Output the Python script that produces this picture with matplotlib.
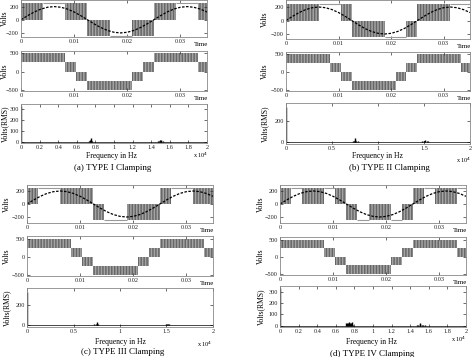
import numpy as np
import matplotlib.pyplot as plt

plt.rcParams['font.family'] = ['Liberation Serif', 'DejaVu Serif']
plt.rcParams['hatch.linewidth'] = 0.55
plt.rcParams['hatch.color'] = '#4a4a4a'

W, H = 474, 357

# Reference sine (dashed), sampled every 1.25 ms
ref_t = [i * 0.00125 for i in range(29)]
ref_v = [0, 62, 118, 162, 190, 200, 190, 162, 118, 62, 0, -62, -118, -162, -190,
         -200, -190, -162, -118, -62, 0, 62, 118, 162, 190, 200, 190, 162, 118]

# Phase voltage: switching intervals (start, end, low, high) and clamped intervals (start, end, level)
t1_switch = [(0, 0.00417, 0, 250), (0.00833, 0.0125, 0, 250), (0.0125, 0.01667, -250, 0),
             (0.02083, 0.025, -250, 0), (0.025, 0.02917, 0, 250), (0.03333, 0.035, 0, 250)]
t1_clamp = [(0.00417, 0.00833, 250), (0.01667, 0.02083, -250), (0.02917, 0.03333, 250)]

t2_switch = [(0, 0.00625, 0, 250), (0.01042, 0.0125, 0, 250), (0.0125, 0.01875, -250, 0),
             (0.02292, 0.025, -250, 0), (0.025, 0.03125, 0, 250)]
t2_clamp = [(0.00625, 0.01042, 250), (0.01875, 0.02292, -250), (0.03125, 0.035, 250)]

t3_switch = [(0, 0.00208, 0, 250), (0.00625, 0.0125, 0, 250), (0.0125, 0.01458, -250, 0),
             (0.01875, 0.025, -250, 0), (0.025, 0.02708, 0, 250), (0.03125, 0.035, 0, 250)]
t3_clamp = [(0.00208, 0.00625, 250), (0.01458, 0.01875, -250), (0.02708, 0.03125, 250)]

t4_switch = [(0, 0.00208, 0, 250), (0.00417, 0.00833, 0, 250), (0.01042, 0.0125, 0, 250),
             (0.0125, 0.01458, -250, 0), (0.01667, 0.02083, -250, 0), (0.02292, 0.025, -250, 0),
             (0.025, 0.02708, 0, 250), (0.02917, 0.03333, 0, 250)]
t4_clamp = [(0.00208, 0.00417, 250), (0.00833, 0.01042, 250), (0.01458, 0.01667, -250),
            (0.02083, 0.02292, -250), (0.02708, 0.02917, 250), (0.03333, 0.035, 250)]

# Line voltage steps
line_start = [0, 0.00833, 0.01042, 0.0125, 0.02083, 0.02292, 0.025, 0.03333]
line_end = [0.00833, 0.01042, 0.0125, 0.02083, 0.02292, 0.025, 0.03333, 0.035]
line_low = [250, 0, -250, -500, -250, 0, 250, 0]
line_high = [500, 250, 0, -250, 0, 250, 500, 250]

# Spectra (Hz, Volts RMS)
t1_freq = [40, 7200, 7350, 7450, 7500, 7550, 7650, 7800, 14700, 14850, 14950, 15000, 15100, 15250, 15400]
t1_amp = [330, 4, 8, 15, 38, 14, 8, 4, 5, 10, 14, 16, 12, 8, 4]
t2_freq = [40, 7250, 7400, 7500, 7550, 7650, 7800, 14800, 14950, 15050, 15150, 15300, 15450]
t2_amp = [330, 6, 10, 16, 36, 12, 5, 6, 10, 14, 18, 12, 5]
t3_freq = [40, 7250, 7400, 7480, 7550, 7650, 7800, 14800, 14950, 15050, 15150, 15300, 15450]
t3_amp = [330, 6, 10, 30, 14, 10, 5, 5, 9, 12, 15, 11, 5]
t4_freq = [40, 7150, 7250, 7350, 7450, 7550, 7650, 7750, 7850, 14700, 14850, 15000, 15100, 15250, 15400, 15600]
t4_amp = [330, 25, 30, 22, 32, 28, 26, 34, 8, 6, 10, 14, 22, 10, 8, 5]

fig = plt.figure(figsize=(W / 100, H / 100), dpi=100)


def rect(x0, y0, x1, y1):
    return [x0 / W, 1 - y1 / H, (x1 - x0) / W, (y1 - y0) / H]


def ftext(x, y, s, **kw):
    fig.text(x / W, 1 - y / H, s, **kw)


def style(ax):
    ax.tick_params(direction='in', length=2, width=0.5, labelsize=4.5, pad=1.5,
                   top=True, right=True, colors='#333333', labelcolor='#222222')
    for sp in ax.spines.values():
        sp.set_linewidth(0.6)
        sp.set_color('#888888')


def draw_panel(px, top_y, mid_y, bot_y, switch, clamp, ylims, freq, amp, fticks, sticks,
               caption, cap_xy, freq_xy, x10_xy, ylab_x):
    x0, x1 = px
    # phase voltage
    ax = fig.add_axes(rect(x0, top_y[0], x1, top_y[1]))
    for s, e, lo, hi in switch:
        ax.bar(s, hi - lo, width=e - s, bottom=lo, align='edge', color='#c2c2c2',
               hatch='|' * 11, edgecolor='#4a4a4a', linewidth=0)
    for s, e, lev in clamp:
        ax.hlines(lev, s, e, color='#9a9a9a', lw=0.8)
    ax.plot(ref_t, ref_v, color='black', ls=(0, (2, 1.2)), lw=0.9)
    ax.set_xlim(0, 0.035)
    ax.set_ylim(*ylims[0])
    ax.set_xticks([0, 0.01, 0.02, 0.03])
    ax.set_xticklabels(['0', '0.01', '0.02', '0.03'])
    ax.set_yticks([-200, 0, 200])
    style(ax)
    ftext(x1 - 6, top_y[1] + 7.5, 'Time', fontsize=5, ha='center', va='center')
    ftext(x0 - ylab_x, (top_y[0] + top_y[1]) / 2, 'Volts', fontsize=5.5, rotation=90,
          ha='center', va='center')

    # line voltage
    ax = fig.add_axes(rect(x0, mid_y[0], x1, mid_y[1]))
    ax.bar(line_start, np.subtract(line_high, line_low), width=np.subtract(line_end, line_start),
           bottom=line_low, align='edge', color='#c2c2c2', hatch='|' * 11,
           edgecolor='#4a4a4a', linewidth=0)
    ax.set_xlim(0, 0.035)
    ax.set_ylim(*ylims[1])
    ax.set_xticks([0, 0.01, 0.02, 0.03])
    ax.set_xticklabels(['0', '0.01', '0.02', '0.03'])
    ax.set_yticks([-500, 0, 500])
    style(ax)
    ftext(x1 - 6, mid_y[1] + 7.5, 'Time', fontsize=5, ha='center', va='center')
    ftext(x0 - ylab_x, (mid_y[0] + mid_y[1]) / 2, 'Volts', fontsize=5.5, rotation=90,
          ha='center', va='center')

    # spectrum
    ax = fig.add_axes(rect(x0, bot_y[0], x1, bot_y[1]))
    ax.vlines(np.array(freq) / 1e4, 0, amp, color='black', lw=1.0)
    ax.axhline(1, color='black', lw=0.5)
    ax.set_xlim(0, 2)
    ax.set_ylim(*ylims[2])
    ax.set_xticks(fticks)
    ax.set_xticklabels([('%g' % v) for v in fticks])
    ax.set_yticks(sticks)
    style(ax)
    ftext(x0 - ylab_x, (bot_y[0] + bot_y[1]) / 2, 'Volts(RMS)', fontsize=5.5, rotation=90,
          ha='center', va='center')
    ftext(freq_xy[0], freq_xy[1], 'Frequency in Hz', fontsize=5.5, ha='center', va='center')
    ftext(x10_xy[0], x10_xy[1], r'x 10$^4$', fontsize=4.5, ha='center', va='center')
    ftext(cap_xy[0], cap_xy[1], caption, fontsize=6.5, ha='center', va='center')


fine = [0, 0.2, 0.4, 0.6, 0.8, 1, 1.2, 1.4, 1.6, 1.8, 2]
coarse = [0, 0.5, 1, 1.5, 2]

draw_panel((21, 207), (0, 37), (51, 91), (104, 143), t1_switch, t1_clamp,
           [(-262, 300), (-527, 555), (-9, 345)], t1_freq, t1_amp, fine, [0, 100, 200, 300],
           '(a) TYPE I Clamping', (113, 168), (112, 156), (201, 155), 16)
draw_panel((286, 470), (0, 39), (52, 91), (103, 144), t2_switch, t2_clamp,
           [(-274, 304), (-527, 555), (-19, 371)], t2_freq, t2_amp, coarse, [0, 200],
           '(b) TYPE II Clamping', (389, 168), (377, 156), (464, 160), 21)
draw_panel((27, 213), (185, 223), (236, 276), (288, 327), t3_switch, t3_clamp,
           [(-292, 292), (-540, 580), (-20, 370)], t3_freq, t3_amp, coarse, [0, 200],
           '(c) TYPE III Clamping', (123, 352), (120, 342), (205, 344), 20)
draw_panel((280, 466), (185, 223), (237, 275), (286, 327), t4_switch, t4_clamp,
           [(-292, 292), (-540, 580), (-9, 348)], t4_freq, t4_amp, fine, [0, 100, 200, 300],
           '(d) TYPE IV Clamping', (372, 354), (372, 342), (459, 339), 19)

fig.savefig('out.png', dpi=100)
